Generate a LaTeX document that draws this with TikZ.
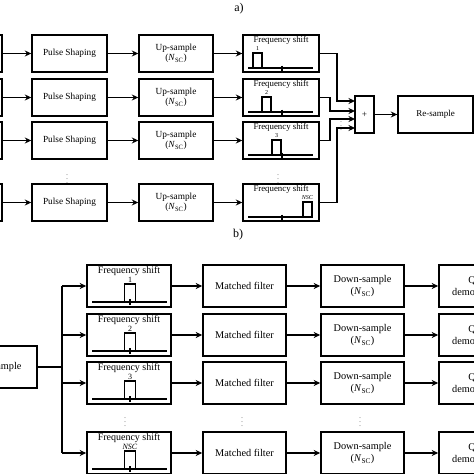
\documentclass[tikz,border=0pt]{standalone}
\usepackage{fontspec}
\setmainfont{Liberation Serif}
\usetikzlibrary{arrows.meta}
\newcommand\nsc{(\textit{N}\textsubscript{SC})}
% inner drawing of a frequency-shift box, part a
\newcommand\fsinnera[4]{%
 \begin{scope}[shift={(243,#1)}]
  \node[fstitle] (fta#4) at (38,5.5) {Frequency shift};
  \draw[ln] (5,33) -- (70,33);
  \draw[ln] (39,30.5) -- (39,35.5);
  \draw[ln] (#2,33) -- (#2,18) -- (#2+9,18) -- (#2+9,33);
  \node[fslabel] (fla#4) at (#2+4.5,13.8) {#3};
 \end{scope}}
% inner drawing of a frequency-shift box, part b
\newcommand\fsinnerb[3]{%
 \begin{scope}[shift={(87,#1)}]
  \node[fstitleb] (ftb#3) at (42,6) {Frequency shift};
  \draw[ln] (5,37) -- (80,37);
  \draw[ln] (43,34) -- (43,40);
  \draw[ln] (37.5,37) -- (37.5,19) -- (48.5,19) -- (48.5,37);
  \node[fslabelb] (flb#3) at (43,14.8) {#2};
 \end{scope}}
\begin{document}
\begin{tikzpicture}[x=1pt,y=-1pt,
  blk/.style={draw=black, line width=1.4pt, inner sep=0pt, align=center, font=\fontsize{9.3}{10.5}\selectfont},
  blka/.style={blk, minimum height=37pt},
  blkb/.style={blk, minimum height=42pt, minimum width=83pt, line width=1.6pt, font=\fontsize{10.3}{12.5}\selectfont},
  ln/.style={line width=1.1pt},
  arr/.style={line width=1.1pt, -{Stealth[length=6.5pt,width=6pt]}},
  fstitle/.style={inner sep=0pt, font=\fontsize{8.8}{10}\selectfont},
  fstitleb/.style={inner sep=0pt, font=\fontsize{10}{11}\selectfont},
  fslabel/.style={inner sep=0pt, font=\fontsize{6}{7}\selectfont},
  fslabelb/.style={inner sep=0pt, font=\fontsize{8}{9}\selectfont},
  dotsty/.style={inner sep=0pt, font=\fontsize{6}{6}\selectfont},
  ttl/.style={inner sep=0pt, font=\fontsize{12}{13}\selectfont}
]
\useasboundingbox (0,0) rectangle (474,474);

% ---------------- part a ----------------
\node[ttl] (ta) at (239,9) {a)};
\foreach \i/\yc in {1/53.5,2/97.5,3/140.5,4/202.5}{
  \node[blka, minimum width=42pt] (src\i) at (-19,\yc) {};
  \node[blka, minimum width=75pt] (ps\i) at (69.5,\yc) {Pulse Shaping};
  \node[blka, minimum width=74pt] (up\i) at (176,\yc) {Up-sample\\\nsc};
  \node[blka, minimum width=76pt] (fs\i) at (281,\yc) {};
  \draw[arr] (src\i) -- (ps\i);
  \draw[arr] (ps\i) -- (up\i);
  \draw[arr] (up\i) -- (fs\i);
}
\fsinnera{35}{10}{1}{1}
\fsinnera{79}{19}{2}{2}
\fsinnera{122}{29}{3}{3}
\fsinnera{184}{60}{\textit{NSC}}{4}

\node[dotsty] (da1) at (67,176) {$\vdots$};
\node[dotsty] (da2) at (278,176) {$\vdots$};

\node[blka, minimum width=19pt] (sum) at (364.5,114.5) {+};
\node[blka, minimum width=75pt, font=\fontsize{9}{10}\selectfont] (rs) at (435.5,114.5) {Re-sample};

\coordinate (in1) at (355,101);
\coordinate (in2) at (355,111);
\coordinate (in3) at (355,119);
\coordinate (in4) at (355,128);
\coordinate (b1) at (337,101);
\coordinate (b2) at (330,111);
\coordinate (b3) at (330,119);
\coordinate (b4) at (337,128);
\draw[arr] (fs1.east) -| (b1) -- (in1);
\draw[arr] (fs2.east) -| (b2) -- (in2);
\draw[arr] (fs3.east) -| (b3) -- (in3);
\draw[arr] (fs4.east) -| (b4) -- (in4);
\node[dotsty] (da3) at (341,123.5) {$\vdots$};
\draw[arr] (sum) -- (rs);

% ---------------- part b ----------------
\node[ttl] (tb) at (238,235) {b)};
\node[blkb, minimum width=75pt] (rsb) at (-0.5,367) {Re-sample};
\foreach \i/\yc in {1/286,2/335,3/383,4/453}{
  \node[blkb, minimum width=84pt] (fsb\i) at (129,\yc) {};
  \node[blkb] (mf\i) at (244.5,\yc) {Matched filter};
  \node[blkb] (ds\i) at (362.5,\yc) {Down-sample\\\nsc};
  \node[blkb] (qd\i) at (480.5,\yc) {QAM\\demodulation};
  \draw[arr] (fsb\i) -- (mf\i);
  \draw[arr] (mf\i) -- (ds\i);
  \draw[arr] (ds\i) -- (qd\i);
}
\fsinnerb{265}{1}{1}
\fsinnerb{314}{2}{2}
\fsinnerb{362}{3}{3}
\fsinnerb{432}{\textit{NSC}}{4}

\coordinate (tr1) at (62,286);
\coordinate (tr4) at (62,453);
\draw[ln] (tr1) -- (tr4);
\draw[ln] (rsb.east) -- (rsb.east -| tr1);
\draw[arr] (tr1) -- (fsb1.west);
\draw[arr] (fsb2.west -| tr1) -- (fsb2.west);
\draw[arr] (fsb3.west -| tr1) -- (fsb3.west);
\draw[arr] (tr4) -- (fsb4.west);

\node[dotsty] (db1) at (125,419) {$\vdots$};
\node[dotsty] (db2) at (242,419) {$\vdots$};
\node[dotsty] (db3) at (360,419) {$\vdots$};
\end{tikzpicture}
\end{document}
